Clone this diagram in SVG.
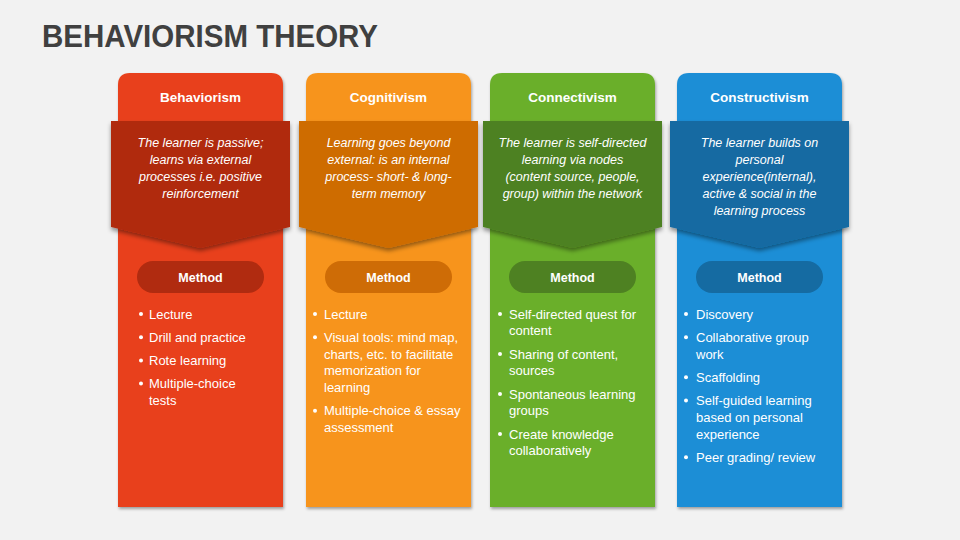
<svg xmlns="http://www.w3.org/2000/svg" width="960" height="540" viewBox="0 0 960 540">
  <defs>
    <filter id="cardShadow" x="-10%" y="-10%" width="120%" height="120%">
      <feDropShadow dx="1" dy="2" stdDeviation="1.5" flood-color="#000" flood-opacity="0.35"/>
    </filter>
    <filter id="bannerShadow" x="-10%" y="-10%" width="120%" height="130%">
      <feDropShadow dx="0" dy="3" stdDeviation="2" flood-color="#000" flood-opacity="0.4"/>
    </filter>
  </defs>
  <style>
    .title { font-family: "Liberation Sans", Arial, sans-serif; font-weight: bold; font-size: 32px; fill: #404040; }
    .head { font-family: "Liberation Sans", Arial, sans-serif; font-weight: bold; font-size: 13.5px; fill: #fff; text-anchor: middle; }
    .desc { font-family: "Liberation Sans", Arial, sans-serif; font-style: italic; font-size: 12.5px; fill: #fff; text-anchor: middle; }
    .meth { font-family: "Liberation Sans", Arial, sans-serif; font-weight: bold; font-size: 12.5px; fill: #fff; text-anchor: middle; }
    .item { font-family: "Liberation Sans", Arial, sans-serif; font-size: 13px; fill: #fff; }
    .dot { fill: #fff; }
    .c1 { fill: #E8401A; } .d1 { fill: #B02B10; }
    .c2 { fill: #F7941D; } .d2 { fill: #CE6C06; }
    .c3 { fill: #6AAF2A; } .d3 { fill: #4E8122; }
    .c4 { fill: #1B8ED6; } .d4 { fill: #156BA2; }
  </style>
  <rect width="960" height="540" fill="#F2F2F2"/>
  <text class="title" x="42" y="47" textLength="336" lengthAdjust="spacingAndGlyphs">BEHAVIORISM THEORY</text>

  <g id="behaviorism">
    <path class="c1" filter="url(#cardShadow)" d="M118,507 V85 Q118,73 130,73 H271 Q283,73 283,85 V507 Z"/>
    <text class="head" x="200.5" y="102">Behaviorism</text>
    <polygon class="d1" filter="url(#bannerShadow)" points="111,121 290,121 290,227 200.5,248 111,227"/>
    <text class="desc" x="200.5" y="146.5">The learner is passive;<tspan x="200.5" dy="17">learns via external</tspan><tspan x="200.5" dy="17">processes i.e. positive</tspan><tspan x="200.5" dy="17">reinforcement</tspan></text>
    <rect class="d1" x="137" y="261" width="127" height="32" rx="16"/>
    <text class="meth" x="200.5" y="281.5">Method</text>
    <g class="dot">
      <circle cx="141" cy="314" r="2"/><circle cx="141" cy="337.2" r="2"/><circle cx="141" cy="360.4" r="2"/><circle cx="141" cy="383.6" r="2"/>
    </g>
    <text class="item" x="149" y="318.5">Lecture<tspan x="149" dy="23.2">Drill and practice</tspan><tspan x="149" dy="23.2">Rote learning</tspan><tspan x="149" dy="23.2">Multiple-choice</tspan><tspan x="149" dy="16.8">tests</tspan></text>
  </g>

  <g id="cognitivism">
    <path class="c2" filter="url(#cardShadow)" d="M306,507 V85 Q306,73 318,73 H459 Q471,73 471,85 V507 Z"/>
    <text class="head" x="388.5" y="102">Cognitivism</text>
    <polygon class="d2" filter="url(#bannerShadow)" points="299,121 478,121 478,227 388.5,248 299,227"/>
    <text class="desc" x="388.5" y="146.5">Learning goes beyond<tspan x="388.5" dy="17">external: is an internal</tspan><tspan x="388.5" dy="17">process- short- &amp; long-</tspan><tspan x="388.5" dy="17">term memory</tspan></text>
    <rect class="d2" x="325" y="261" width="127" height="32" rx="16"/>
    <text class="meth" x="388.5" y="281.5">Method</text>
    <g class="dot">
      <circle cx="315" cy="314" r="2"/><circle cx="315" cy="337.2" r="2"/><circle cx="315" cy="410.8" r="2"/>
    </g>
    <text class="item" x="324" y="318.5">Lecture<tspan x="324" dy="23.2">Visual tools: mind map,</tspan><tspan x="324" dy="16.8">charts, etc. to facilitate</tspan><tspan x="324" dy="16.8">memorization for</tspan><tspan x="324" dy="16.8">learning</tspan><tspan x="324" dy="23.2">Multiple-choice &amp; essay</tspan><tspan x="324" dy="16.8">assessment</tspan></text>
  </g>

  <g id="connectivism">
    <path class="c3" filter="url(#cardShadow)" d="M490,507 V85 Q490,73 502,73 H643 Q655,73 655,85 V507 Z"/>
    <text class="head" x="572.5" y="102">Connectivism</text>
    <polygon class="d3" filter="url(#bannerShadow)" points="483,121 662,121 662,227 572.5,248 483,227"/>
    <text class="desc" x="572.5" y="146.5">The learner is self-directed<tspan x="572.5" dy="17">learning via nodes</tspan><tspan x="572.5" dy="17">(content source, people,</tspan><tspan x="572.5" dy="17">group) within the network</tspan></text>
    <rect class="d3" x="509" y="261" width="127" height="32" rx="16"/>
    <text class="meth" x="572.5" y="281.5">Method</text>
    <g class="dot">
      <circle cx="500" cy="314" r="2"/><circle cx="500" cy="354" r="2"/><circle cx="500" cy="394" r="2"/><circle cx="500" cy="434" r="2"/>
    </g>
    <text class="item" x="509" y="318.5">Self-directed quest for<tspan x="509" dy="16.8">content</tspan><tspan x="509" dy="23.2">Sharing of content,</tspan><tspan x="509" dy="16.8">sources</tspan><tspan x="509" dy="23.2">Spontaneous learning</tspan><tspan x="509" dy="16.8">groups</tspan><tspan x="509" dy="23.2">Create knowledge</tspan><tspan x="509" dy="16.8">collaboratively</tspan></text>
  </g>

  <g id="constructivism">
    <path class="c4" filter="url(#cardShadow)" d="M677,507 V85 Q677,73 689,73 H830 Q842,73 842,85 V507 Z"/>
    <text class="head" x="759.5" y="102">Constructivism</text>
    <polygon class="d4" filter="url(#bannerShadow)" points="670,121 849,121 849,227 759.5,248 670,227"/>
    <text class="desc" x="759.5" y="146.5">The learner builds on<tspan x="759.5" dy="17">personal</tspan><tspan x="759.5" dy="17">experience(internal),</tspan><tspan x="759.5" dy="17">active &amp; social in the</tspan><tspan x="759.5" dy="17">learning process</tspan></text>
    <rect class="d4" x="696" y="261" width="127" height="32" rx="16"/>
    <text class="meth" x="759.5" y="281.5">Method</text>
    <g class="dot">
      <circle cx="686" cy="314" r="2"/><circle cx="686" cy="337.2" r="2"/><circle cx="686" cy="377.2" r="2"/><circle cx="686" cy="400.4" r="2"/><circle cx="686" cy="457.2" r="2"/>
    </g>
    <text class="item" x="696" y="318.5">Discovery<tspan x="696" dy="23.2">Collaborative group</tspan><tspan x="696" dy="16.8">work</tspan><tspan x="696" dy="23.2">Scaffolding</tspan><tspan x="696" dy="23.2">Self-guided learning</tspan><tspan x="696" dy="16.8">based on personal</tspan><tspan x="696" dy="16.8">experience</tspan><tspan x="696" dy="23.2">Peer grading/ review</tspan></text>
  </g>
</svg>
